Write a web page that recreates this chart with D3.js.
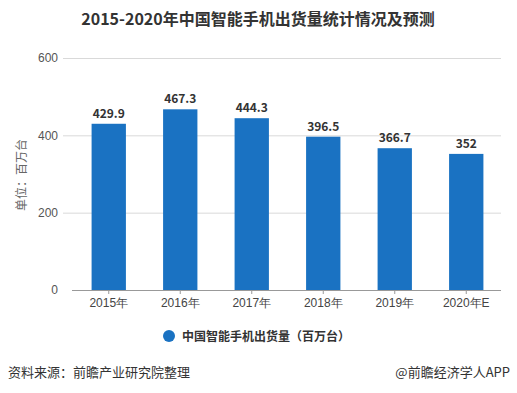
<!DOCTYPE html>
<html><head><meta charset="utf-8">
<script src="https://cdn.jsdelivr.net/npm/d3@7"></script>
<style>body{margin:0;background:#fff;}svg{display:block;font-family:"Microsoft YaHei","Noto Sans CJK SC","Noto Sans",sans-serif;}</style>
</head><body>
<svg id="c" width="517" height="393"></svg>
<script>
const categories = ["2015年","2016年","2017年","2018年","2019年","2020年E"];
const values = [429.9, 467.3, 444.3, 396.5, 366.7, 352];
const valueLabels = ["429.9","467.3","444.3","396.5","366.7","352"];
const yTicks = [0, 200, 400, 600];
const title = "2015-2020年中国智能手机出货量统计情况及预测";
const seriesName = "中国智能手机出货量（百万台）";
const yTitle = "单位：百万台";
const source = "资料来源：前瞻产业研究院整理";
const credit = "@前瞻经济学人APP";

const svg = d3.select("#c");
const barColor = "#1a72c2";
const x = d3.scaleBand().domain(categories).range([73, 502]).paddingInner(0.52).paddingOuter(0.26);
const y = d3.scaleLinear().domain([0, 600]).range([290, 58]);

svg.append("text").attr("x", 258).attr("y", 25).attr("text-anchor", "middle")
  .attr("font-size", 16).attr("font-weight", "bold").attr("fill", "#333").text(title);

// gridlines
svg.append("g").selectAll("line").data(yTicks.filter(d => d > 0)).join("line")
  .attr("x1", 63).attr("x2", 501).attr("y1", d => y(d) + 0.5).attr("y2", d => y(d) + 0.5)
  .attr("stroke", "#d9d9d9");

// y axis labels
const ya = svg.append("g").attr("transform", "translate(63,0)")
  .call(d3.axisLeft(y).tickValues(yTicks).tickSize(0).tickPadding(5));
ya.select(".domain").remove();
ya.selectAll("text").attr("font-size", 12).attr("fill", "#555").attr("font-family", null);

svg.append("text").attr("transform", "translate(26,175) rotate(-90)").attr("text-anchor", "middle")
  .attr("font-size", 12).attr("fill", "#666").text(yTitle);

// bars
svg.append("g").selectAll("rect").data(values).join("rect")
  .attr("x", (d, i) => x(categories[i])).attr("width", x.bandwidth())
  .attr("y", d => y(d)).attr("height", d => y(0) - y(d)).attr("fill", barColor);

svg.append("g").selectAll("text").data(values).join("text")
  .attr("x", (d, i) => x(categories[i]) + x.bandwidth() / 2).attr("y", d => y(d) - 6)
  .attr("text-anchor", "middle").attr("font-size", 12).attr("font-weight", "bold").attr("fill", "#333")
  .text((d, i) => valueLabels[i]);

// x axis
const xa = svg.append("g").attr("transform", "translate(0,290)")
  .call(d3.axisBottom(x).tickSize(4).tickPadding(4).tickSizeOuter(0));
xa.select(".domain").attr("stroke", "#999").attr("d", "M72,0.5H501");
xa.selectAll(".tick line").attr("stroke", "#999");
xa.selectAll("text").attr("font-size", 12).attr("fill", "#444").attr("font-family", null);

// legend
svg.append("circle").attr("cx", 169).attr("cy", 336).attr("r", 6).attr("fill", barColor);
svg.append("text").attr("x", 182).attr("y", 340.5).attr("font-size", 12).attr("font-weight", "bold")
  .attr("fill", "#333").text(seriesName);

// footer
svg.append("text").attr("x", 8).attr("y", 377).attr("font-size", 13).attr("fill", "#333").text(source);
svg.append("text").attr("x", 510).attr("y", 377).attr("text-anchor", "end").attr("font-size", 13).attr("fill", "#333").text(credit);
</script>
</body></html>
